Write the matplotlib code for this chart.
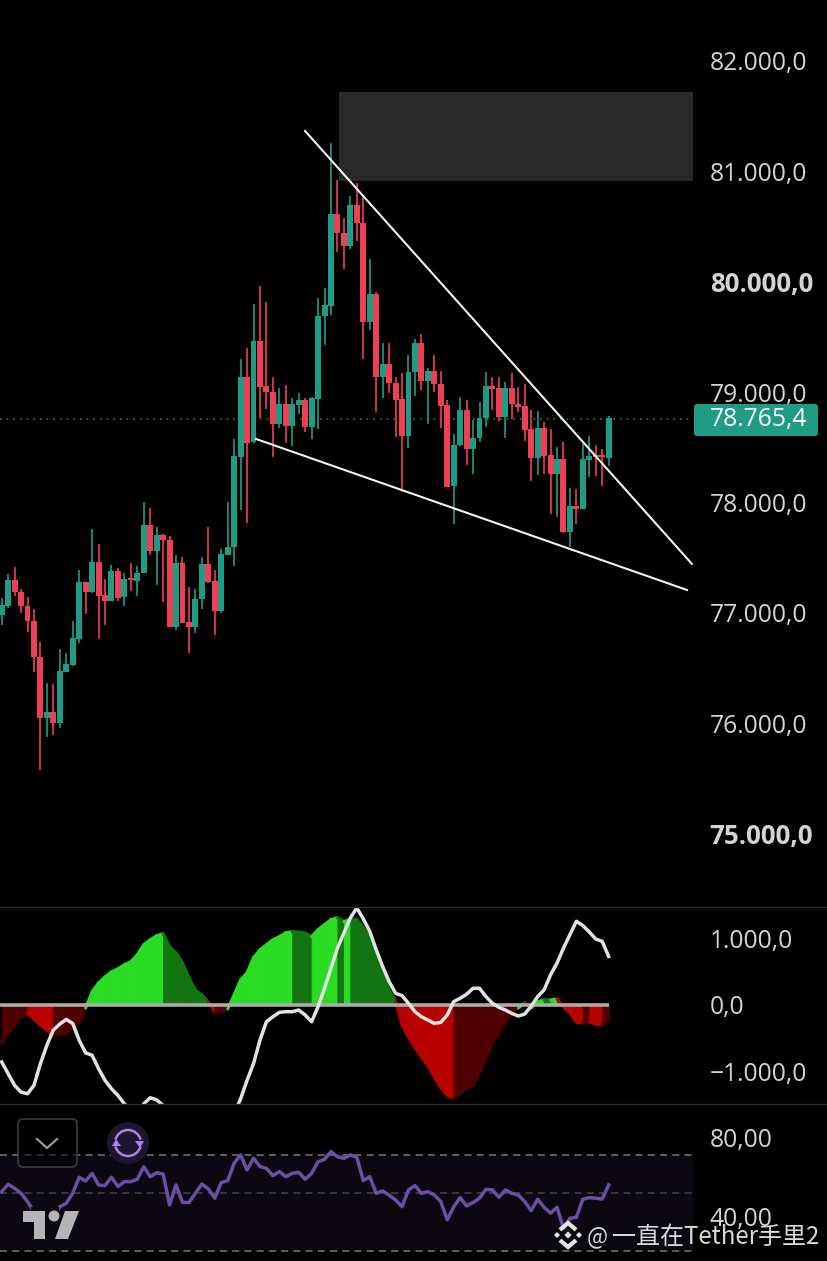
"""BTC candles with falling wedge, MACD and RSI panes (dark mobile chart)."""
import matplotlib
matplotlib.use('Agg')
import matplotlib.pyplot as plt
from matplotlib.patches import Rectangle, FancyBboxPatch, Circle, Polygon, Arc

W, H = 828, 1261
plt.rcParams['font.family'] = ['Open Sans', 'DejaVu Sans']

# Candles
opens = [76982, 77063, 77299, 77190, 77063, 76927, 76601, 76049, 76103, 76003,
         76466, 76529, 76764, 77281, 77190, 77462, 77163, 77109, 77380, 77145,
         77308, 77290, 77362, 77797, 77561, 77706, 77661, 76873, 77453, 76918,
         76873, 77127, 77444, 77290, 77018, 77525, 77598, 78413, 79138, 78549,
         79464, 79056, 79002, 78712, 78893, 78694, 78884, 78929, 78685, 78938,
         79690, 79781, 80614, 80442, 80324, 80696, 80533, 79636, 79889, 79138,
         79255, 79083, 78938, 78603, 79183, 79446, 79101, 79192, 79074, 78884,
         78150, 78522, 78839, 78486, 78585, 78766, 79056, 79038, 78775, 79038,
         78893, 78875, 78667, 78404, 78676, 78431, 78259, 78395, 77734, 77969,
         77942, 78386, 78431, 78431, 78404]
highs = [77136, 77353, 77417, 77217, 77145, 77036, 76737, 76366, 76357, 76674,
         76638, 76927, 77389, 77281, 77761, 77625, 77308, 77435, 77408, 77362,
         77453, 77426, 78005, 77951, 77779, 77715, 77697, 77525, 77507, 77235,
         77217, 77507, 77779, 77389, 77580, 78005, 78576, 79301, 79400, 79799,
         79962, 79817, 79138, 79038, 79065, 78947, 78993, 78947, 78956, 79853,
         79944, 81257, 80922, 80578, 80777, 80895, 80768, 80206, 79907, 79446,
         79446, 79138, 79174, 79337, 79482, 79527, 79219, 79337, 79192, 78929,
         78621, 78956, 78929, 78748, 78911, 79183, 79138, 79138, 79092, 79174,
         79047, 79074, 78839, 78830, 78730, 78667, 78504, 78549, 78132, 78123,
         78558, 78603, 78522, 78486, 78784]
lows = [76891, 77045, 77154, 77000, 76828, 76466, 75578, 75877, 75895, 75958,
        76466, 76520, 76728, 76991, 77181, 76764, 76891, 77109, 77109, 77063,
        77199, 77154, 77362, 77525, 77254, 77100, 76873, 76846, 76909, 76638,
        76819, 77036, 77272, 76801, 77000, 77525, 77426, 77933, 77815, 78540,
        78766, 78848, 78413, 78676, 78540, 78513, 78802, 78639, 78576, 78667,
        79427, 79699, 80270, 80116, 80297, 80369, 79301, 79563, 78821, 78947,
        78993, 78594, 78096, 78494, 78965, 79020, 78712, 79002, 78676, 78141,
        77806, 78513, 78341, 78259, 78549, 78685, 78839, 78739, 78585, 78757,
        78821, 78558, 78196, 78250, 78259, 77897, 77869, 77725, 77598, 77806,
        77942, 78232, 78241, 78150, 78331]
closes = [77072, 77299, 77190, 77063, 76927, 76601, 76049, 76103, 76003, 76475,
          76538, 76773, 77281, 77190, 77462, 77154, 77109, 77380, 77136, 77308,
          77299, 77362, 77797, 77561, 77706, 77661, 76873, 77453, 76909, 76873,
          77127, 77444, 77281, 77018, 77534, 77598, 78422, 79138, 78540, 79464,
          79047, 79002, 78712, 78893, 78694, 78893, 78929, 78685, 78947, 79690,
          79790, 80614, 80442, 80324, 80696, 80533, 79636, 79889, 79138, 79255,
          79083, 78929, 78603, 79183, 79446, 79101, 79192, 79074, 78875, 78141,
          78522, 78839, 78486, 78585, 78766, 79056, 79029, 78775, 79038, 78893,
          78866, 78658, 78404, 78676, 78422, 78259, 78395, 77734, 77969, 77942,
          78395, 78422, 78413, 78413, 78765]

price_ticks = [82000, 81000, 80000, 79000, 78000, 77000, 76000, 75000]
price_labels = ['82.000,0', '81.000,0', '80.000,0', '79.000,0', '78.000,0',
                '77.000,0', '76.000,0', '75.000,0']
bold_labels = ['80.000,0', '75.000,0']
last_price = 78757
last_label = '78.765,4'

# Drawings on the price pane
zone_x = [52.24, 107.0]
zone_y = [80913, 81719]
upper_x = [46.98, 106.9]
upper_y = [81366, 77444]
lower_x = [39.39, 106.14]
lower_y = [78576, 77208]

# MACD pane
hist = [-570, -420, -300, -180, -120, -210, -300, -375, -450, -435,
        -420, -345, -255, -45, 195, 330, 420, 495, 540, 600,
        645, 750, 900, 975, 1035, 1065, 870, 780, 630, 405,
        225, 150, 45, -105, -100, -60, 150, 375, 480, 705,
        825, 900, 975, 1020, 1080, 1095, 1090, 1075, 1020, 1125,
        1200, 1275, 1305, 1245, 1285, 1275, 1155, 1020, 750, 495,
        225, 60, -300, -480, -630, -780, -900, -1080, -1230, -1350,
        -1395, -1320, -1245, -1200, -1020, -795, -570, -405, -255, -120,
        -45, 30, -45, 45, 80, 75, 90, -30, -120, -255,
        -270, -255, -285, -300, -210]
macd = [-850, -1025, -1200, -1300, -1325, -1200, -875, -600, -375, -285,
        -215, -275, -525, -715, -750, -950, -1125, -1250, -1350, -1475,
        -1575, -1625, -1475, -1385, -1415, -1500, -1675, -1825, -1925, -2025,
        -2125, -2175, -2175, -2125, -2025, -1825, -1625, -1400, -1125, -875,
        -525, -250, -175, -110, -100, -100, -75, -150, -250, -25,
        250, 550, 850, 1075, 1300, 1450, 1285, 1100, 825, 575,
        350, 175, 140, 25, -100, -175, -225, -275, -260, -150,
        50, 100, 160, 250, 250, 125, 25, -35, -75, -125,
        -165, -135, -15, 125, 225, 450, 625, 850, 1050, 1250,
        1185, 1090, 985, 950, 725]
macd_ticks = [1000, 0, -1000]
macd_labels = ['1.000,0', '0,0', '\u22121.000,0']

# RSI pane
rsi = [52.8, 56.5, 54.5, 52, 47.8, 42.7, 38.5, 37.6, 39.3, 45.2,
       46.9, 52, 60.1, 58.2, 62.1, 56.2, 55.9, 60.1, 55.4, 57.9,
       57.9, 59.1, 65.5, 60.4, 62.4, 61.8, 46.1, 56.2, 47.4, 47.3,
       52, 56.7, 54.2, 49.5, 57.4, 58.4, 67.2, 71.4, 63.8, 69.7,
       65.5, 64.6, 60.9, 63, 60.4, 62.1, 62.6, 59.1, 62.1, 68,
       69.2, 73.1, 70.5, 69.7, 71.4, 70.2, 58.4, 60.4, 52, 53.2,
       51.1, 48.6, 45.2, 53.7, 55.9, 52, 52.8, 51.1, 47.8, 38.5,
       45.2, 49.8, 45.6, 47.3, 49.5, 54, 53.7, 50, 53.7, 52,
       51.1, 47.8, 43.2, 49, 44.9, 41.9, 44.9, 34.3, 39.3, 39.8,
       49, 49.8, 49.5, 49.1, 56.2]
rsi_ticks = [80, 40]
rsi_labels = ['80,00', '40,00']
rsi_upper, rsi_mid, rsi_lower = 71.4, 52.2, 22.8

GREEN, RED = '#1f9c86', '#ef3f55'
BRIGHT_G, DARK_G, BRIGHT_R, DARK_R = '#2bdc25', '#127512', '#b80000', '#4f0000'
LABEL = '#d4d4d4'
XLIM = (-0.26, 107.06)


def pane(top, bottom):
    ax = fig.add_axes([0, 1 - bottom / H, 693 / W, (bottom - top) / H])
    ax.set_facecolor('black')
    ax.set_xlim(*XLIM)
    ax.set_xticks([])
    for s in ax.spines.values():
        s.set_visible(False)
    ax.yaxis.tick_right()
    ax.tick_params(axis='y', length=0, pad=12, labelcolor=LABEL, labelsize=17.7)
    return ax


fig = plt.figure(figsize=(W / 100, H / 100), dpi=100, facecolor='black')

# ---- price pane
ax = pane(0, 905)
ax.set_ylim(74355, 82552)
ax.set_yticks(price_ticks)
ax.set_yticklabels(price_labels)
for t in ax.get_yticklabels():
    if t.get_text() in bold_labels:
        t.set_fontweight('bold')
        t.set_fontsize(18.6)
ax.add_patch(Rectangle((zone_x[0], zone_y[0]), zone_x[1] - zone_x[0], zone_y[1] - zone_y[0],
                       facecolor='#292929', edgecolor='none', zorder=1))
ax.axhline(last_price, color='#2d7a6c', lw=1.2, ls=(0, (1, 3)), zorder=1)
for i in range(len(opens)):
    c = GREEN if closes[i] >= opens[i] else RED
    ax.vlines(i, lows[i], highs[i], color=c, lw=1.2, zorder=2)
    ax.bar(i, max(abs(closes[i] - opens[i]), 15), bottom=min(opens[i], closes[i]),
           width=0.92, color=c, lw=0, zorder=3)
ax.plot(upper_x, upper_y, color='#f2f2f2', lw=1.5, zorder=4)
ax.plot(lower_x, lower_y, color='#f2f2f2', lw=1.5, zorder=4)

# ---- MACD pane
ax2 = pane(907, 1104)
ax2.set_ylim(-1478, 1463)
ax2.set_yticks(macd_ticks)
ax2.set_yticklabels(macd_labels)
for i in range(len(hist) - 1):
    a, b = hist[i], hist[i + 1]
    if b >= 0 or (a > 0 and b > -1 and b < a):
        col = BRIGHT_G if b > a else DARK_G
    else:
        col = BRIGHT_R if b < a else DARK_R
    ax2.fill_between([i, i + 1], [a, b], 0, facecolor=col, edgecolor=col, lw=0.7, zorder=1)
    ax2.plot([i, i + 1], [a, b], color=col, lw=2.2, solid_capstyle='round', zorder=1)
ax2.plot([XLIM[0], len(hist) - 1], [0, 0], color='#ababab', lw=2.6, zorder=2, solid_capstyle='butt')
ax2.plot(range(len(macd)), macd, color='#e2e2e2', lw=2.5, zorder=3, solid_joinstyle='round')

# ---- RSI pane
ax3 = pane(1105, 1261)
ax3.set_ylim(17.7, 96.7)
ax3.set_yticks(rsi_ticks)
ax3.set_yticklabels(rsi_labels)
ax3.axhspan(rsi_lower, rsi_upper, facecolor='#0b0812', edgecolor='none', zorder=0)
dash = (0, (4.6, 3.4))
ax3.axhline(rsi_upper, color='#777777', lw=1.1, ls=dash, zorder=1)
ax3.axhline(rsi_mid, color='#454545', lw=1.1, ls=dash, zorder=1)
ax3.axhline(rsi_lower, color='#777777', lw=1.1, ls=dash, zorder=1)
ax3.plot(range(len(rsi)), rsi, color='#6a4fa5', lw=2.5, zorder=2)

# ---- overlay: pane borders, price tag, app icons, watermark
ov = fig.add_axes([0, 0, 1, 1], zorder=10)
ov.set_xlim(0, W)
ov.set_ylim(H, 0)
ov.axis('off')
ov.plot([0, W], [907, 907], color='#2a2a2a', lw=1)
ov.plot([0, W], [1104, 1104], color='#2a2a2a', lw=1)

ov.add_patch(FancyBboxPatch((696, 406), 120, 28, boxstyle='round,pad=2,rounding_size=3',
                            facecolor='#1f9c86', edgecolor='none'))
ov.text(710, 419.5, last_label, color='white', fontsize=17.7, va='center', ha='left')

# collapse button
ov.add_patch(FancyBboxPatch((20, 1121), 55, 44, boxstyle='round,pad=2,rounding_size=5',
                            facecolor='#00000088', edgecolor='#3c3c3c', lw=1.2))
ov.plot([37, 47, 57], [1139, 1148, 1139], color='#9a9a9a', lw=1.6)

# refresh icon
ov.add_patch(Circle((128, 1143), 21, facecolor='#1e1530', edgecolor='none'))
ov.add_patch(Arc((128, 1143), 26, 26, theta1=195, theta2=345, color='#a484e6', lw=1.8))
ov.add_patch(Arc((128, 1143), 26, 26, theta1=15, theta2=165, color='#a484e6', lw=1.8))
ov.add_patch(Polygon([(135, 1141), (144, 1141), (140, 1148)], facecolor='#a484e6', edgecolor='none'))
ov.add_patch(Polygon([(112, 1146), (121, 1146), (116, 1139)], facecolor='#a484e6', edgecolor='none'))

# TradingView logo
ov.add_patch(Rectangle((31, 1207), 28, 34, facecolor='#0b0812', edgecolor='none'))
ov.add_patch(Polygon([(23, 1211), (45, 1211), (45, 1239), (34, 1239), (34, 1222), (23, 1222)],
                     facecolor='#b5b5b5', edgecolor='none'))
ov.add_patch(Circle((54, 1216), 5.5, facecolor='#b5b5b5', edgecolor='none'))
ov.add_patch(Polygon([(65, 1211), (79, 1211), (68, 1239), (55, 1239)],
                     facecolor='#b5b5b5', edgecolor='none'))

# Binance mark and watermark
cx, cy = 568, 1235
for dx, dy, r in [(0, 0, 3.6), (-11, 0, 3), (11, 0, 3)]:
    ov.add_patch(Polygon([(cx + dx - r, cy + dy), (cx + dx, cy + dy - r),
                          (cx + dx + r, cy + dy), (cx + dx, cy + dy + r)],
                         facecolor='#e4e4e4', edgecolor='none'))
ov.plot([cx - 6.5, cx, cx + 6.5], [cy - 6.5, cy - 12, cy - 6.5], color='#e4e4e4', lw=3, solid_joinstyle='miter')
ov.plot([cx - 6.5, cx, cx + 6.5], [cy + 6.5, cy + 12, cy + 6.5], color='#e4e4e4', lw=3, solid_joinstyle='miter')
ov.text(587, 1237, '@', color='#d9d9d9', fontsize=16, va='center', ha='left',
        family=['Noto Sans CJK SC', 'DejaVu Sans'])
ov.text(612, 1237, '一直在Tether手里2', color='#d9d9d9', fontsize=17.3, va='center', ha='left',
        family=['Noto Sans CJK SC', 'DejaVu Sans'])

fig.savefig('out.png', dpi=100, facecolor='black')
print('Saved out.png')
